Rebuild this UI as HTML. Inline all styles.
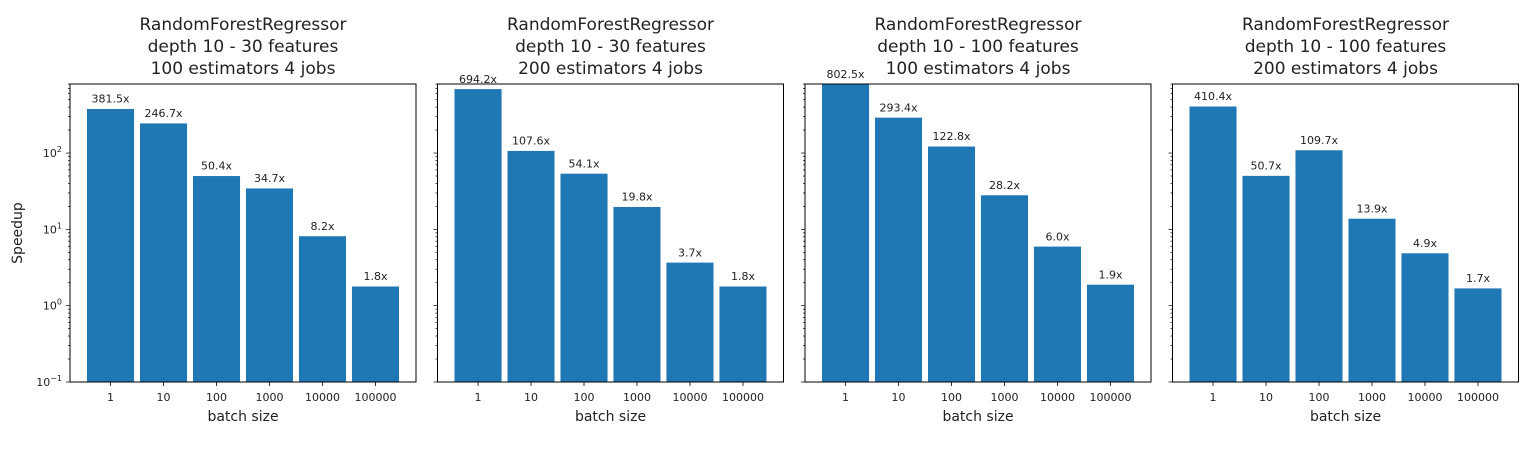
<!DOCTYPE html>
<html><head><meta charset="utf-8"><style>
body{margin:0;background:#fff;}
svg text{font-family:"DejaVu Sans","Liberation Sans",sans-serif;fill:#222;}
</style></head><body>
<svg id="c" width="1536" height="459" xmlns="http://www.w3.org/2000/svg"></svg>
<script>
const categories = ["1","10","100","1000","10000","100000"];
const titles = [
 ["RandomForestRegressor","depth 10 - 30 features","100 estimators 4 jobs"],
 ["RandomForestRegressor","depth 10 - 30 features","200 estimators 4 jobs"],
 ["RandomForestRegressor","depth 10 - 100 features","100 estimators 4 jobs"],
 ["RandomForestRegressor","depth 10 - 100 features","200 estimators 4 jobs"]
];
const series1 = [381.5,246.7,50.4,34.7,8.2,1.8];
const series2 = [694.2,107.6,54.1,19.8,3.7,1.8];
const series3 = [802.5,293.4,122.8,28.2,6.0,1.9];
const series4 = [410.4,50.7,109.7,13.9,4.9,1.7];
const allSeries = [series1,series2,series3,series4];
const yTickExps = [-1,0,1,2];

const NS="http://www.w3.org/2000/svg";
const svgEl=document.getElementById('c');
function mk(tag,attrs,parent){const e=document.createElementNS(NS,tag);for(const k in attrs)e.setAttribute(k,attrs[k]);(parent||svgEl).appendChild(e);return e;}
const plotTop=84,plotBottom=382,W=346;
const panelLeft=[70,437.5,805,1172.5];
const yMinL=-1, yMaxL=Math.log10(802.5);
function yScale(v){return plotBottom-(Math.log10(v)-yMinL)/(yMaxL-yMinL)*(plotBottom-plotTop);}
const xMin=-0.765,xMax=5.765;
allSeries.forEach((data,p)=>{
  const L=panelLeft[p];
  const xs=i=>L+(i-xMin)/(xMax-xMin)*W;
  const bw=0.9/(xMax-xMin)*W;
  const g=mk('g',{});
  
  
  titles[p].forEach((t,k)=>{const tt=mk('text',{x:L+W/2,y:30+k*22,'text-anchor':'middle','font-size':'17'},g);tt.textContent=t;
    
    });
  data.forEach((v,i)=>{
    const yt=Math.max(yScale(v),plotTop);
    const r=mk('rect',{x:xs(i)-bw/2,y:yt,width:bw,height:plotBottom-yt,fill:'#1f77b4',stroke:'#fff','stroke-width':'0.6'},g);
    
    
    const lb=mk('text',{x:xs(i),y:yScale(v)-6,'text-anchor':'middle','font-size':'11'},g);
    lb.textContent=v.toFixed(1)+'x';
    
    
    mk('line',{x1:xs(i),x2:xs(i),y1:plotBottom,y2:plotBottom+4,stroke:'#000','stroke-width':'0.8'},g);
    const tl=mk('text',{x:xs(i),y:plotBottom+19,'text-anchor':'middle','font-size':'11'},g);
    tl.textContent=categories[i];
    
    
  });
  for(let e=-1;e<=2;e++){
    for(let m=1;m<10;m++){const v=m*Math.pow(10,e);if(v>Math.pow(10,yMaxL))break;const yy=yScale(v);
      mk('line',{x1:L-(m===1?4:2),x2:L,y1:yy,y2:yy,stroke:'#000','stroke-width':'0.7'},g);}
  }
  if(p===0){
    yTickExps.forEach(e=>{const t=mk('text',{x:L-8,y:yScale(Math.pow(10,e))+4,'text-anchor':'end','font-size':'11'},g);
      t.innerHTML='10<tspan dy="-5" font-size="8">'+(e<0?'−1':e)+'</tspan>';
      
      });
    const yl=mk('text',{x:22,y:233,'text-anchor':'middle','font-size':'14',transform:'rotate(-90 22 233)'},g);
    yl.textContent='Speedup';
    
    
  }
  const xl=mk('text',{x:L+W/2,y:421,'text-anchor':'middle','font-size':'14'},g);
  xl.textContent='batch size';
  
  
  const fr=mk('rect',{x:L,y:plotTop,width:W,height:plotBottom-plotTop,fill:'none',stroke:'#000','stroke-width':'1'},g);
  
  
});
</script>
</body></html>
